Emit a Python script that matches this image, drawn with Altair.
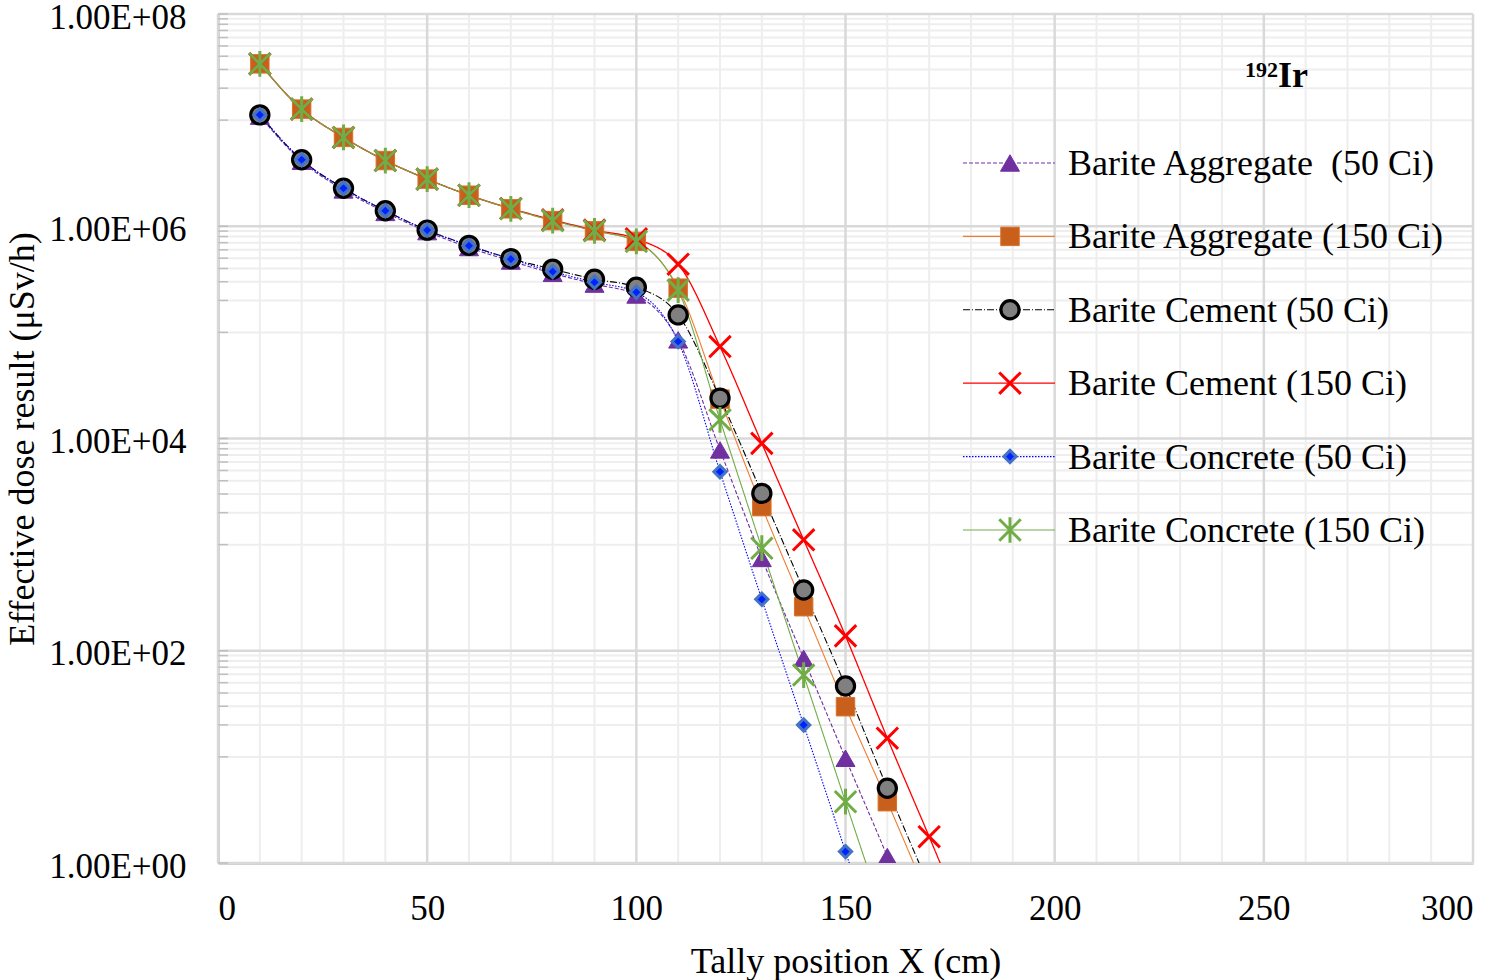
import altair as alt
import pandas as pd

# Tally positions (cm) and effective dose (µSv/h) per shielding material / source activity
series_names = [
    "Barite Aggregate\u00a0 (50 Ci)",
    "Barite Aggregate (150 Ci)",
    "Barite Cement (50 Ci)",
    "Barite Cement (150 Ci)",
    "Barite Concrete (50 Ci)",
    "Barite Concrete (150 Ci)",
]

x_agg50 = [10, 20, 30, 40, 50, 60, 70, 80, 90, 100, 110, 120, 130, 140, 150, 160, 170]
y_agg50 = [1.09e7, 4.1e6, 2.2e6, 1.35e6, 8.9e5, 6.3e5, 4.7e5, 3.6e5, 2.85e5, 2.25e5,
           8.5e4, 7.8e3, 741, 84.7, 9.7, 1.15, 0.12]

x_agg150 = [10, 20, 30, 40, 50, 60, 70, 80, 90, 100, 110, 120, 130, 140, 150, 160, 170]
y_agg150 = [3.39e7, 1.27e7, 6.87e6, 4.16e6, 2.78e6, 1.96e6, 1.46e6, 1.13e6, 9.06e5, 7.2e5,
            2.61e5, 2.35e4, 2.28e3, 260, 29.7, 3.78, 0.45]

x_cem50 = [10, 20, 30, 40, 50, 60, 70, 80, 90, 100, 110, 120, 130, 140, 150, 160, 170]
y_cem50 = [1.12e7, 4.23e6, 2.28e6, 1.40e6, 9.2e5, 6.6e5, 4.95e5, 3.94e5, 3.17e5, 2.66e5,
           1.46e5, 2.4e4, 3.04e3, 374, 46.6, 5.06, 0.6]

x_cem150 = [10, 20, 30, 40, 50, 60, 70, 80, 90, 100, 110, 120, 130, 140, 150, 160, 170, 180]
y_cem150 = [3.39e7, 1.27e7, 6.87e6, 4.16e6, 2.78e6, 1.96e6, 1.47e6, 1.15e6, 9.2e5, 7.6e5,
            4.39e5, 7.35e4, 9.0e3, 1.11e3, 138, 15, 1.77, 0.2]

x_con50 = [10, 20, 30, 40, 50, 60, 70, 80, 90, 100, 110, 120, 130, 140, 150, 160]
y_con50 = [1.12e7, 4.23e6, 2.28e6, 1.40e6, 9.2e5, 6.55e5, 4.9e5, 3.74e5, 2.97e5, 2.39e5,
           8.2e4, 4.86e3, 305, 20, 1.28, 0.08]

x_con150 = [10, 20, 30, 40, 50, 60, 70, 80, 90, 100, 110, 120, 130, 140, 150, 160]
y_con150 = [3.39e7, 1.27e7, 6.87e6, 4.16e6, 2.78e6, 1.96e6, 1.46e6, 1.13e6, 9.06e5, 7.2e5,
            2.5e5, 1.5e4, 925, 59, 3.78, 0.25]

xs = [x_agg50, x_agg150, x_cem50, x_cem150, x_con50, x_con150]
ys = [y_agg50, y_agg150, y_cem50, y_cem150, y_con50, y_con150]

# Axis ticks / gridlines
x_major = [0, 50, 100, 150, 200, 250, 300]
x_minor = [v for v in range(10, 300, 10) if v % 50 != 0]
y_major = [1, 1e2, 1e4, 1e6, 1e8]
y_minor = [k * 10 ** e for e in (1, 3, 5, 7) for k in range(1, 10)]

# Series styling
line_colors = ["#7030A0", "#ED7D31", "#000000", "#FF0000", "#0000FF", "#70AD47"]
line_dashes = [[4, 2], [1, 0], [7, 2, 1, 2], [1, 0], [1.5, 1.5], [1, 0]]
line_widths = [1.1, 1.1, 1.1, 1.3, 1.1, 1.1]
marker_shapes = [
    "triangle-up",
    "square",
    "circle",
    "M-1,-1L1,1M-1,1L1,-1",
    "diamond",
    "M-1,-1L1,1M-1,1L1,-1M0,-1.2L0,1.2",
]
marker_fills = ["#7030A0", "#C8601C", "#808080", "transparent", "#0022FF", "transparent"]
marker_strokes = ["#7030A0", "#D9702A", "#000000", "#FF0000", "#4472C4", "#70AD47"]
marker_sizes = [360, 340, 330, 460, 150, 460]
marker_widths = [1, 1, 3.2, 3, 3, 3]

rows = []
for i, name in enumerate(series_names):
    for xv, yv in zip(xs[i], ys[i]):
        rows.append({"series": name, "curve": i, "x": xv, "dose": yv})
df = pd.DataFrame(rows)
legend_df = pd.DataFrame({"series": series_names, "curve": list(range(6))})

FONT = "Liberation Serif"
W, H = 1255, 849
idx = list(range(6))

xscale = alt.Scale(domain=[0, 300], nice=False, zero=False)
yscale = alt.Scale(type="log", domain=[1, 1e8], nice=False)
# vertical placement of the key entries inside the plot area
key_scale = alt.Scale(type="point", domain=series_names, range=[149, 516], padding=0)

x_axis = alt.Axis(
    values=x_major, title="Tally position X (cm)", grid=False, ticks=False, tickSize=0,
    labelPadding=28, titlePadding=18, domainColor="#BFBFBF", domainWidth=2.5,
    labelFontSize=35, titleFontSize=36,
)
y_axis = alt.Axis(
    values=y_major, title="Effective dose result (\u03bcSv/h)", grid=False, ticks=False,
    tickSize=0, labelPadding=32, titlePadding=7, domainColor="#BFBFBF", domainWidth=2.5,
    labelFontSize=35, titleFontSize=36, labelOffset=3,
    labelExpr="'1.00E+' + format(round(log(datum.value) / LN10), '02d')",
)

grid_x_minor = alt.Chart(pd.DataFrame({"v": x_minor})).mark_rule(
    color="#EEEEEE", strokeWidth=2
).encode(x=alt.X("v:Q", scale=xscale, axis=x_axis))

grid_y_minor = alt.Chart(pd.DataFrame({"v": y_minor})).mark_rule(
    color="#EEEEEE", strokeWidth=2
).encode(y=alt.Y("v:Q", scale=yscale, axis=None))

grid_x_major = alt.Chart(pd.DataFrame({"v": x_major})).mark_rule(
    color="#D9D9D9", strokeWidth=2.5
).encode(x=alt.X("v:Q", scale=xscale, axis=x_axis))

grid_y_major = alt.Chart(pd.DataFrame({"v": y_major})).mark_rule(
    color="#D9D9D9", strokeWidth=2.5
).encode(y=alt.Y("v:Q", scale=yscale, axis=None))

y_ticks = alt.Chart(pd.DataFrame({"v": y_minor + y_major})).mark_rule(
    color="#BFBFBF", strokeWidth=1.5
).encode(y=alt.Y("v:Q", scale=yscale, axis=None), x=alt.value(0), x2=alt.value(10))


def discrete(rng):
    return alt.Scale(type="ordinal", domain=idx, range=rng)


line_stroke = alt.Stroke("curve:N", scale=discrete(line_colors), legend=None)
line_dash = alt.StrokeDash("curve:N", scale=discrete(line_dashes), legend=None)
line_width = alt.StrokeWidth("curve:N", scale=discrete(line_widths), legend=None)

lines = alt.Chart(df).mark_line(interpolate="monotone", clip=True).encode(
    x=alt.X("x:Q", scale=xscale, axis=x_axis),
    y=alt.Y("dose:Q", scale=yscale, axis=y_axis),
    stroke=line_stroke,
    strokeDash=line_dash,
    strokeWidth=line_width,
)

marker_enc = dict(
    shape=alt.Shape("curve:N", scale=discrete(marker_shapes), legend=None),
    fill=alt.Fill("curve:N", scale=discrete(marker_fills), legend=None),
    stroke=alt.Stroke("curve:N", scale=discrete(marker_strokes), legend=None),
    size=alt.Size("curve:N", scale=discrete(marker_sizes), legend=None),
    strokeWidth=alt.StrokeWidth("curve:N", scale=discrete(marker_widths), legend=None),
)

points = alt.Chart(df).mark_point(filled=True, opacity=1, clip=True).encode(
    x=alt.X("x:Q", scale=xscale, axis=x_axis),
    y=alt.Y("dose:Q", scale=yscale, axis=None),
    **marker_enc,
)

# Series key: line sample, marker and name per row
key_lines = alt.Chart(legend_df).mark_rule().encode(
    y=alt.Y("series:N", scale=key_scale, axis=None),
    x=alt.value(745), x2=alt.value(837),
    stroke=line_stroke, strokeDash=line_dash, strokeWidth=line_width,
)
key_marks = alt.Chart(legend_df).mark_point(filled=True, opacity=1).encode(
    y=alt.Y("series:N", scale=key_scale, axis=None),
    x=alt.value(792),
    **marker_enc,
)
key_text = alt.Chart(legend_df).mark_text(
    font=FONT, fontSize=36, align="left", baseline="middle", color="black", dy=1
).encode(
    y=alt.Y("series:N", scale=key_scale, axis=None),
    x=alt.value(850),
    text="series:N",
)

label_df = pd.DataFrame({"mass": ["192"], "sym": ["Ir"]})
iso_mass = alt.Chart(label_df).mark_text(
    font=FONT, fontSize=22, fontWeight="bold", align="left", baseline="alphabetic", color="black"
).encode(text="mass:N", x=alt.value(1027), y=alt.value(63))
iso_sym = alt.Chart(label_df).mark_text(
    font=FONT, fontSize=36, fontWeight="bold", align="left", baseline="alphabetic", color="black"
).encode(text="sym:N", x=alt.value(1060), y=alt.value(73))

chart = alt.layer(
    grid_x_minor, grid_y_minor, grid_x_major, grid_y_major, y_ticks,
    lines, points, key_lines, key_marks, key_text, iso_mass, iso_sym,
).resolve_scale(
    y="independent", stroke="independent", strokeWidth="independent",
).properties(
    width=W, height=H,
    autosize=alt.AutoSizeParams(type="none"),
    padding={"left": 218, "top": 14, "right": 27, "bottom": 117},
    background="white",
).configure_view(
    stroke=None
).configure_axis(
    labelFont=FONT, titleFont=FONT, labelColor="black", titleColor="black",
    titleFontWeight="normal",
)

chart.save("out.html", embed_options={"renderer": "svg", "actions": False})
